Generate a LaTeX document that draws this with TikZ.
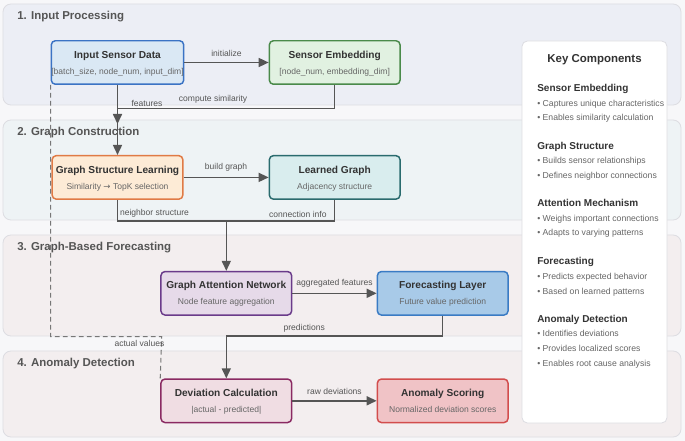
\documentclass[tikz,border=0pt]{standalone}
\usepackage{fontspec}
\setmainfont{Liberation Sans}
\newfontfamily\arrowfont{DejaVu Sans}
\usetikzlibrary{arrows.meta, positioning}
\definecolor{Bg}{HTML}{F7F7F9}
\definecolor{PanelLine}{HTML}{DDDDE2}
\definecolor{PanelA}{HTML}{ECEEF5}
\definecolor{PanelB}{HTML}{EEF3F5}
\definecolor{PanelC}{HTML}{F3EEEF}
\definecolor{Ink}{HTML}{333333}
\definecolor{Soft}{HTML}{666666}
\definecolor{Flow}{HTML}{555555}
\definecolor{InFill}{HTML}{DAE8F4}
\definecolor{InLine}{HTML}{3B73C4}
\definecolor{EmbFill}{HTML}{E1F1E1}
\definecolor{EmbLine}{HTML}{4A8A4A}
\definecolor{GslFill}{HTML}{FDEBD6}
\definecolor{GslLine}{HTML}{E07A45}
\definecolor{LgFill}{HTML}{D9EDEE}
\definecolor{LgLine}{HTML}{2A6B6E}
\definecolor{GanFill}{HTML}{E6DAE9}
\definecolor{GanLine}{HTML}{6A3B8A}
\definecolor{FlFill}{HTML}{A8CAE8}
\definecolor{FlLine}{HTML}{3A7BC4}
\definecolor{DevFill}{HTML}{F0DDE3}
\definecolor{DevLine}{HTML}{8A2A62}
\definecolor{AsFill}{HTML}{F0C3C6}
\definecolor{AsLine}{HTML}{D24D4D}

\newcommand{\boxtitle}[1]{{\bfseries\color{Ink}#1}}
\newcommand{\boxsub}[1]{{\fontsize{6.4pt}{12pt}\selectfont\color{Soft}#1}}

\tikzset{
  panel/.style={draw=PanelLine, line width=0.6pt, rounded corners=6pt},
  stage/.style={anchor=west, font=\fontsize{8.6pt}{10pt}\selectfont\bfseries, text=Flow,
    inner sep=0pt, text depth=0pt},
  block/.style={rectangle, rounded corners=3pt, line width=1.1pt, minimum width=98pt,
    minimum height=32.6pt, inner sep=0pt, align=center, text depth=0pt,
    font=\fontsize{7.6pt}{12pt}\selectfont},
  flow/.style={draw=Flow, line width=1.1pt},
  lbl/.style={font=\fontsize{6.4pt}{7pt}\selectfont, text=Flow, inner sep=1pt},
  keyhead/.style={anchor=west, font=\fontsize{7.5pt}{9pt}\selectfont\bfseries, text=Ink,
    inner sep=0pt, text depth=0pt},
  keyitem/.style={anchor=west, font=\fontsize{6.5pt}{8pt}\selectfont, text=Soft,
    inner sep=0pt, text depth=0pt}
}

\begin{document}
\begin{tikzpicture}[x=0.75pt,y=-0.75pt,>={Triangle[length=7.5pt,width=6.8pt]}]

\fill[Bg] (0,0) rectangle (685,441);
\useasboundingbox (0,0) rectangle (685,441);

% stage panels
\filldraw[panel, fill=PanelA] (3,4) rectangle (681,105);
\filldraw[panel, fill=PanelB] (3,120) rectangle (681,220);
\filldraw[panel, fill=PanelC] (3,235) rectangle (681,336);
\filldraw[panel, fill=PanelC] (3,351) rectangle (681,437);

\node[stage] (s1) at (17,15.5) {1. Input Processing};
\node[stage] (s2) at (17,131) {2. Graph Construction};
\node[stage] (s3) at (17,246.5) {3. Graph-Based Forecasting};
\node[stage] (s4) at (17,362) {4. Anomaly Detection};

% blocks
\node[block, draw=InLine, fill=InFill] (inp) at (117.5,62.5)
  {\boxtitle{Input Sensor Data}\\\boxsub{[batch\_size, node\_num, input\_dim]}};
\node[block, draw=EmbLine, fill=EmbFill] (emb) at (334.7,62.5)
  {\boxtitle{Sensor Embedding}\\\boxsub{[node\_num, embedding\_dim]}};
\node[block, draw=GslLine, fill=GslFill] (gsl) at (117.5,177.4)
  {\boxtitle{Graph Structure Learning}\\\boxsub{Similarity {\arrowfont→} TopK selection}};
\node[block, draw=LgLine, fill=LgFill] (lg) at (334.7,177.4)
  {\boxtitle{Learned Graph}\\\boxsub{Adjacency structure}};
\node[block, draw=GanLine, fill=GanFill] (gan) at (226.3,293.3)
  {\boxtitle{Graph Attention Network}\\\boxsub{Node feature aggregation}};
\node[block, draw=FlLine, fill=FlFill] (fl) at (442.7,293.3)
  {\boxtitle{Forecasting Layer}\\\boxsub{Future value prediction}};
\node[block, draw=DevLine, fill=DevFill] (dev) at (226.3,400.8)
  {\boxtitle{Deviation Calculation}\\\boxsub{|actual - predicted|}};
\node[block, draw=AsLine, fill=AsFill] (as) at (442.7,400.8)
  {\boxtitle{Anomaly Scoring}\\\boxsub{Normalized deviation scores}};

\coordinate (simJoin) at (117.5,108.5);
\coordinate (simEnd) at (117.5,124);
\coordinate (graphJoin) at (226.3,221);
\coordinate (predJoin) at (226.3,336);
\coordinate (actJoin) at (161.7,336.7);

% connectors
\draw[flow,->] (inp) -- node[lbl, above=3pt] {initialize} (emb);
\draw[flow,->] (inp) -- node[lbl, pos=0.27, right=9pt] {features} (gsl);
\draw[flow,->] (emb) |- node[lbl, pos=0.78, above=2.5pt] {compute similarity} (simJoin) -- (simEnd);
\draw[flow,->] (gsl) -- node[lbl, above=3pt] {build graph} (lg);
\draw[flow] (gsl) |- node[lbl, pos=0.67, above=1pt] {neighbor structure} (graphJoin);
\draw[flow] (lg) |- node[lbl, pos=0.67, above=1pt] {connection info} (graphJoin);
\draw[flow,->] (graphJoin) -- (gan);
\draw[flow,->] (gan) -- node[lbl, above=3pt] {aggregated features} (fl);
\draw[flow,->] (fl) |- node[lbl, pos=0.82, above=1pt] {predictions} (predJoin) -- (dev);
\draw[flow,->] (dev) -- node[lbl, above=3pt] {raw deviations} (as);
\draw[draw=Flow!80, line width=0.8pt, dash pattern=on 3.5pt off 2.5pt]
  (inp.south west) |- node[lbl, pos=0.9, below=1pt] {actual values} (actJoin) -- (dev.north west);

% key components
\filldraw[draw=PanelLine, fill=white, line width=0.6pt, rounded corners=4pt] (522,41) rectangle (667,423);
\node[font=\fontsize{8.6pt}{10pt}\selectfont\bfseries, text=Ink, inner sep=0pt, text depth=0pt] (key) at (594.5,58.5) {Key Components};

\node[keyhead] (k1) at (537,88) {Sensor Embedding};
\node[keyitem] (k1a) at (537,103) {• Captures unique characteristics};
\node[keyitem] (k1b) at (537,117.5) {• Enables similarity calculation};

\node[keyhead] (k2) at (537,146) {Graph Structure};
\node[keyitem] (k2a) at (537,160.5) {• Builds sensor relationships};
\node[keyitem] (k2b) at (537,175.3) {• Defines neighbor connections};

\node[keyhead] (k3) at (537,203) {Attention Mechanism};
\node[keyitem] (k3a) at (537,218.5) {• Weighs important connections};
\node[keyitem] (k3b) at (537,232.3) {• Adapts to varying patterns};

\node[keyhead] (k4) at (537,261.3) {Forecasting};
\node[keyitem] (k4a) at (537,276) {• Predicts expected behavior};
\node[keyitem] (k4b) at (537,291) {• Based on learned patterns};

\node[keyhead] (k5) at (537,319) {Anomaly Detection};
\node[keyitem] (k5a) at (537,333.3) {• Identifies deviations};
\node[keyitem] (k5b) at (537,348.5) {• Provides localized scores};
\node[keyitem] (k5c) at (537,363) {• Enables root cause analysis};

\end{tikzpicture}
\end{document}
